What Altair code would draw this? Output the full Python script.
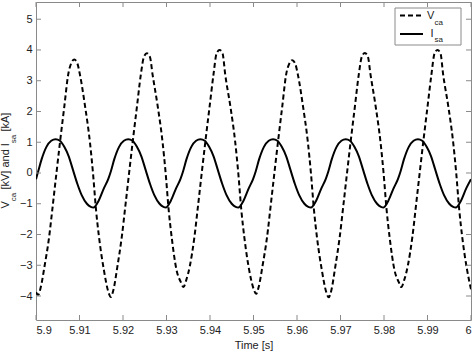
import altair as alt
import pandas as pd

# ---- data ----
v_t = [5.9000, 5.9005,
       5.9011, 5.9020, 5.9030, 5.9039, 5.9047, 5.9056, 5.9065, 5.9074, 5.9081, 5.9088,
       5.9095, 5.9101, 5.9113, 5.9124, 5.9131, 5.9138, 5.9145, 5.9156, 5.9166, 5.9172,
       5.9178, 5.9187, 5.9197, 5.9206, 5.9214, 5.9223, 5.9232, 5.9241, 5.9248, 5.9255,
       5.9262, 5.9268, 5.9280, 5.9291, 5.9298, 5.9305, 5.9312, 5.9323, 5.9333, 5.9339,
       5.9345, 5.9354, 5.9364, 5.9373, 5.9381, 5.9390, 5.9399, 5.9408, 5.9415, 5.9422,
       5.9429, 5.9435, 5.9447, 5.9458, 5.9465, 5.9472, 5.9479, 5.9490, 5.9500, 5.9506,
       5.9512, 5.9521, 5.9531, 5.9540, 5.9548, 5.9557, 5.9566, 5.9575, 5.9582, 5.9589,
       5.9596, 5.9602, 5.9614, 5.9625, 5.9632, 5.9639, 5.9646, 5.9657, 5.9667, 5.9673,
       5.9679, 5.9688, 5.9698, 5.9707, 5.9715, 5.9724, 5.9733, 5.9742, 5.9749, 5.9756,
       5.9763, 5.9769, 5.9781, 5.9792, 5.9799, 5.9806, 5.9813, 5.9824, 5.9834, 5.9840,
       5.9846, 5.9855, 5.9865, 5.9874, 5.9882, 5.9891, 5.9900, 5.9909, 5.9916, 5.9923,
       5.9930, 5.9936, 5.9948, 5.9959, 5.9966, 5.9973, 5.9980, 5.9991, 6.0000]
v_val = [-3.88, -3.96,
         -3.71, -3.0, -2.1, -1.0, 0.0, 1.1, 2.15, 3.2, 3.57, 3.69,
         3.57, 3.2, 2.15, 1.0, 0.0, -1.2, -2.1, -3.15, -3.85, -4.03,
         -3.8, -3.05, -2.1, -1.0, 0.0, 1.1, 2.15, 3.2, 3.77, 3.89,
         3.77, 3.2, 2.15, 1.0, 0.0, -1.2, -2.1, -3.15, -3.55, -3.71,
         -3.5, -3.0, -2.1, -1.0, 0.0, 1.1, 2.15, 3.2, 3.88, 4.0,
         3.88, 3.2, 2.15, 1.0, 0.0, -1.2, -2.1, -3.15, -3.76, -3.93,
         -3.7, -3.0, -2.1, -1.0, 0.0, 1.1, 2.15, 3.2, 3.55, 3.67,
         3.55, 3.2, 2.15, 1.0, 0.0, -1.2, -2.1, -3.15, -3.86, -4.04,
         -3.81, -3.05, -2.1, -1.0, 0.0, 1.1, 2.15, 3.2, 3.78, 3.9,
         3.78, 3.2, 2.15, 1.0, 0.0, -1.2, -2.1, -3.15, -3.55, -3.71,
         -3.5, -3.0, -2.1, -1.0, 0.0, 1.1, 2.15, 3.2, 3.88, 4.0,
         3.88, 3.2, 2.15, 1.0, 0.0, -1.2, -2.1, -3.15, -3.78]

i_t = [5.9000,
       5.9005, 5.9013, 5.9024, 5.9035, 5.9045, 5.9055, 5.9065, 5.9075, 5.9085, 5.9095, 5.9105, 5.9117, 5.9126, 5.9132,
       5.9144, 5.9156, 5.9166, 5.9172, 5.9180, 5.9191, 5.9202, 5.9212, 5.9222, 5.9232, 5.9242, 5.9252, 5.9262, 5.9272, 5.9284, 5.9293, 5.9299,
       5.9310, 5.9322, 5.9332, 5.9338, 5.9346, 5.9357, 5.9368, 5.9378, 5.9388, 5.9398, 5.9408, 5.9418, 5.9428, 5.9438, 5.9450, 5.9459, 5.9465,
       5.9477, 5.9489, 5.9499, 5.9505, 5.9513, 5.9524, 5.9535, 5.9545, 5.9555, 5.9565, 5.9575, 5.9585, 5.9595, 5.9605, 5.9617, 5.9626, 5.9632,
       5.9644, 5.9656, 5.9666, 5.9672, 5.9680, 5.9691, 5.9702, 5.9712, 5.9722, 5.9732, 5.9742, 5.9752, 5.9762, 5.9772, 5.9784, 5.9793, 5.9799,
       5.9810, 5.9822, 5.9832, 5.9838, 5.9846, 5.9857, 5.9868, 5.9878, 5.9888, 5.9898, 5.9908, 5.9918, 5.9928, 5.9938, 5.9950, 5.9959, 5.9965,
       5.9977, 5.9989, 6.0000]
i_val = [-0.2,
         0.05, 0.45, 0.85, 1.05, 1.1, 1.05, 0.85, 0.55, 0.1, -0.35, -0.72, -1.0, -1.1, -1.12,
         -0.9, -0.5, -0.2, 0.05, 0.45, 0.85, 1.05, 1.1, 1.05, 0.85, 0.55, 0.1, -0.35, -0.72, -1.0, -1.1, -1.12,
         -0.9, -0.5, -0.2, 0.05, 0.45, 0.85, 1.05, 1.1, 1.05, 0.85, 0.55, 0.1, -0.35, -0.72, -1.0, -1.1, -1.12,
         -0.9, -0.5, -0.2, 0.05, 0.45, 0.85, 1.05, 1.1, 1.05, 0.85, 0.55, 0.1, -0.35, -0.72, -1.0, -1.1, -1.12,
         -0.9, -0.5, -0.2, 0.05, 0.45, 0.85, 1.05, 1.1, 1.05, 0.85, 0.55, 0.1, -0.35, -0.72, -1.0, -1.1, -1.12,
         -0.9, -0.5, -0.2, 0.05, 0.45, 0.85, 1.05, 1.1, 1.05, 0.85, 0.55, 0.1, -0.35, -0.72, -1.0, -1.1, -1.12,
         -0.9, -0.5, -0.2]

x_ticks = [5.9, 5.91, 5.92, 5.93, 5.94, 5.95, 5.96, 5.97, 5.98, 5.99, 6.0]
y_ticks = [-4, -3, -2, -1, 0, 1, 2, 3, 4, 5]

W, H = 435, 318
FONT = "Liberation Sans"
FRAME = "#8a8a8a"

df_v = pd.DataFrame({"x": v_t, "y": v_val})
df_i = pd.DataFrame({"x": i_t, "y": i_val})
df_xt = pd.DataFrame({"x": x_ticks})
df_yt = pd.DataFrame({"y": y_ticks})
one = pd.DataFrame({"k": [0]})

xs = alt.Scale(domain=[5.9, 6.0], nice=False, zero=False)
ys = alt.Scale(domain=[-4.78, 5.56], nice=False, zero=False)
xaxis = alt.Axis(values=x_ticks, format=".3~g", ticks=False, domain=False, grid=False,
                 labelPadding=4, labelFontSize=11, labelFont=FONT, labelColor="#222",
                 title="Time [s]", titleFontSize=11, titleFont=FONT, titleFontWeight="normal",
                 titleColor="#222", titlePadding=4)
yaxis = alt.Axis(values=y_ticks, ticks=False, domain=False, grid=False,
                 labelPadding=4, labelFontSize=11, labelFont=FONT, labelColor="#222",
                 title=None)
X = alt.X("x:Q", scale=xs, axis=xaxis)
Y = alt.Y("y:Q", scale=ys, axis=yaxis)

v_line = alt.Chart(df_v).mark_line(color="black", strokeWidth=2, strokeDash=[5, 3],
                                   interpolate="monotone", clip=True).encode(x=X, y=Y)
i_line = alt.Chart(df_i).mark_line(color="black", strokeWidth=2,
                                   interpolate="monotone", clip=True).encode(x=X, y=Y)

tick_len = 5
t_bottom = alt.Chart(df_xt).mark_rule(color=FRAME).encode(x=X, y=alt.value(H), y2=alt.value(H - tick_len))
t_top = alt.Chart(df_xt).mark_rule(color=FRAME).encode(x=X, y=alt.value(0), y2=alt.value(tick_len))
t_left = alt.Chart(df_yt).mark_rule(color=FRAME).encode(y=Y, x=alt.value(0), x2=alt.value(tick_len))
t_right = alt.Chart(df_yt).mark_rule(color=FRAME).encode(y=Y, x=alt.value(W), x2=alt.value(W - tick_len))

def txt(s, x, y, size=11, angle=0):
    return alt.Chart(one).mark_text(text=s, fontSize=size, font=FONT, color="#222",
                                    align="left", baseline="alphabetic", angle=angle).encode(
        x=alt.value(x), y=alt.value(y))

# y-axis title with subscripts (rotated)
ytitle = [
    txt("V", -27, 206.5, 11, 270),
    txt("ca", -20, 199.2, 8, 270),
    txt("[kV] and I", -27, 187.6, 11, 270),
    txt("sa", -20, 141.2, 8, 270),
    txt("[kA]", -27, 129.6, 11, 270),
]

# legend
leg_box = alt.Chart(one).mark_rect(fill="white", stroke=FRAME, strokeWidth=1).encode(
    x=alt.value(359), x2=alt.value(425), y=alt.value(6), y2=alt.value(43))
leg_v = alt.Chart(one).mark_rule(color="black", strokeWidth=2, strokeDash=[5, 3]).encode(
    x=alt.value(364), x2=alt.value(386), y=alt.value(13.5))
leg_i = alt.Chart(one).mark_rule(color="black", strokeWidth=2).encode(
    x=alt.value(364), x2=alt.value(387), y=alt.value(32))
leg_txt = [
    txt("V", 391, 17.3, 11),
    txt("ca", 398.5, 22.5, 8),
    txt("I", 394.5, 35, 11),
    txt("sa", 398.5, 39.5, 8),
]

chart = alt.layer(
    i_line, v_line, t_bottom, t_top, t_left, t_right,
    leg_box, leg_v, leg_i, *leg_txt, *ytitle
).properties(
    width=W, height=H,
    padding={"left": 36, "top": 2, "right": 3, "bottom": 34},
    autosize=alt.AutoSizeParams(type="none"),
    background="white",
).configure_view(stroke=FRAME, strokeWidth=1)

chart.save("out.html", embed_options={"renderer": "svg", "actions": False})
